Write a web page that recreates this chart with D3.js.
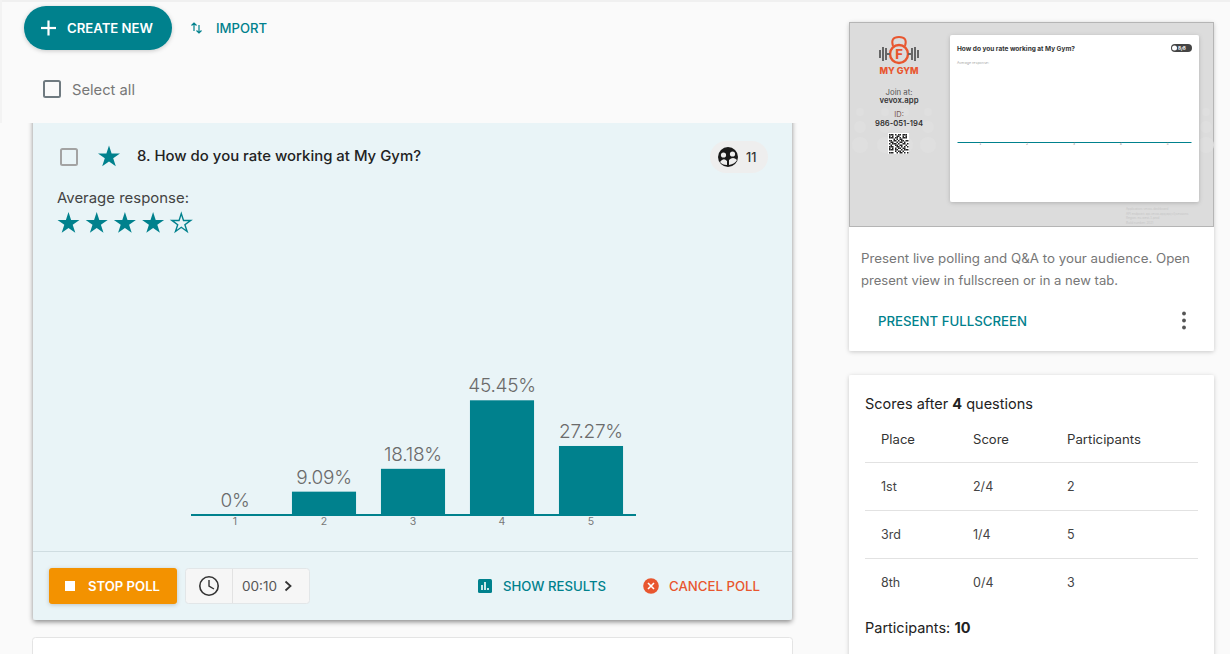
<!DOCTYPE html>
<html>
<head>
<meta charset="utf-8">
<title>Poll</title>
<script src="https://cdn.jsdelivr.net/npm/d3@7/dist/d3.min.js"></script>
<style>
  html, body { margin: 0; padding: 0; background: #fafafa; overflow: hidden; }
  svg { display: block; font-family: Inter, Lato, sans-serif; }
</style>
</head>
<body>
<svg id="page" width="1230" height="654"></svg>
<script>
'use strict';
var categories = ['1', '2', '3', '4', '5'];
var percentages = [0, 9.09, 18.18, 45.45, 27.27];
var percentLabels = ['0%', '9.09%', '18.18%', '45.45%', '27.27%'];
var averageStars = [1, 1, 1, 1, 0];
var tableHeaders = ['Place', 'Score', 'Participants'];
var tablePlaces = ['1st', '3rd', '8th'];
var tableScores = ['2/4', '1/4', '0/4'];
var tableParticipants = ['2', '5', '3'];
var thumbnailValues = [0, 0, 0, 0, 0];
var qrRows = [
  '1110101101110', '1010011001010', '1110110101110', '0001010110000',
  '1101101011011', '0110010110100', '1011101001101', '0100110110010',
  '1110011010101', '1010101101100', '1110110010111', '0000101101000',
  '1110010110101'
];

var TEAL = '#00818d', PALE = '#e9f4f7', GREY = '#6b6b6b', DARK = '#222', RED = '#e8562f', ORANGE = '#f39200';

var svg = d3.select('#page');
var defs = svg.append('defs');
var shadow = defs.append('filter').attr('id', 'shadow').attr('x', '-10%').attr('y', '-10%').attr('width', '120%').attr('height', '125%');
shadow.append('feDropShadow').attr('dx', 0).attr('dy', 2).attr('stdDeviation', 2.5).attr('flood-color', '#000').attr('flood-opacity', 0.45);
var softShadow = defs.append('filter').attr('id', 'softShadow').attr('x', '-10%').attr('y', '-10%').attr('width', '120%').attr('height', '125%');
softShadow.append('feDropShadow').attr('dx', 0).attr('dy', 1).attr('stdDeviation', 2).attr('flood-color', '#000').attr('flood-opacity', 0.2);

function label(parent, x, y, text, size, color, weight, anchor, width) {
  var t = parent.append('text').attr('x', x).attr('y', y).text(text)
    .style('font-size', size + 'px').style('fill', color)
    .style('font-weight', weight || 400).style('text-anchor', anchor || 'start');
  if (width) t.attr('textLength', width).attr('lengthAdjust', 'spacingAndGlyphs');
  return t;
}
function box(parent, x, y, w, h, fill, r) {
  return parent.append('rect').attr('x', x).attr('y', y).attr('width', w).attr('height', h).attr('rx', r || 0).attr('fill', fill);
}
function star(parent, cx, cy, size, filled) {
  parent.append('path').attr('d', d3.symbol().type(d3.symbolStar).size(size)())
    .attr('transform', 'translate(' + cx + ',' + cy + ')')
    .attr('fill', filled ? TEAL : 'none').attr('stroke', TEAL).attr('stroke-width', filled ? 0 : 1.4);
}
function line(parent, x1, y1, x2, y2, color, w) {
  return parent.append('line').attr('x1', x1).attr('y1', y1).attr('x2', x2).attr('y2', y2)
    .attr('stroke', color).attr('stroke-width', w || 1);
}

// page edges
box(svg, 0, 0, 1230, 2, '#f0f0f0');
box(svg, 0, 0, 2, 123, '#f3f3f3');

// poll card
var card = svg.append('g');
box(card, 33, 110, 759, 510, PALE, 3).attr('filter', 'url(#shadow)');
box(svg, 2, 90, 1228, 33, '#fafafa');
box(card, 61, 149, 16, 16, 'none', 1.5).attr('stroke', '#a3a3a3').attr('stroke-width', 2);
star(card, 109, 157, 150, true);
label(card, 137, 161, '8. How do you rate working at My Gym?', 14.5, DARK, 500, 'start', 284);
box(card, 710, 141, 58, 32, '#eeeeee', 16);
card.append('circle').attr('cx', 728).attr('cy', 157).attr('r', 10).attr('fill', '#1a1a1a');
card.append('circle').attr('cx', 723.5).attr('cy', 155).attr('r', 2.6).attr('fill', '#eee');
card.append('circle').attr('cx', 732.5).attr('cy', 154).attr('r', 2.6).attr('fill', '#eee');
card.append('path').attr('d', 'M720 162Q723.5 157 727 161L727 165Q722 165 720 162Z M729 160Q733 156 737 160Q735 164 729 165Z').attr('fill', '#eee');
label(card, 746, 162, '11', 12.5, '#333', 500);
label(card, 57, 203, 'Average response:', 14.5, '#444', 400, 'start', 132);

averageStars.forEach(function (filled, i) {
  star(card, 68.5 + i * 28.2, 223.5, filled ? 150 : 110, filled === 1);
});

// top toolbar
var toolbar = svg.append('g');
box(toolbar, 24, 6, 148, 44, TEAL, 22).attr('filter', 'url(#softShadow)');
line(toolbar, 41, 28, 56, 28, '#fff', 2.2);
line(toolbar, 48.5, 20.5, 48.5, 35.5, '#fff', 2.2);
label(toolbar, 67, 33, 'CREATE NEW', 12.5, '#fff', 600, 'start', 86);
toolbar.append('path').attr('d', 'M194 31V23M191.5 25.5L194 23L196.5 25.5M199 25V33M196.5 30.5L199 33L201.5 30.5')
  .attr('fill', 'none').attr('stroke', TEAL).attr('stroke-width', 1.2);
label(toolbar, 216, 33, 'IMPORT', 12.5, TEAL, 500, 'start', 51);
box(toolbar, 44, 81, 16, 16, 'none', 1.5).attr('stroke', '#6f7a80').attr('stroke-width', 2);
label(toolbar, 72, 95, 'Select all', 14.5, '#777', 400, 'start', 63);

// bar chart
var x = d3.scaleBand().domain(categories).range([190.5, 635.5]).paddingInner(0.28).paddingOuter(0.14);
var y = d3.scaleLinear().domain([0, 45.45]).range([514.5, 400.3]);
var chart = svg.append('g').attr('class', 'chart');

chart.selectAll('rect.bar').data(percentages).enter().append('rect')
  .attr('class', 'bar')
  .attr('x', function (d, i) { return x(categories[i]); })
  .attr('y', function (d) { return y(d); })
  .attr('width', x.bandwidth())
  .attr('height', function (d) { return y(0) - y(d); })
  .attr('fill', TEAL);

chart.selectAll('text.value').data(percentages).enter().append('text')
  .attr('class', 'value')
  .attr('x', function (d, i) { return x(categories[i]) + x.bandwidth() / 2; })
  .attr('y', function (d) { return y(d) - 8; })
  .attr('text-anchor', 'middle')
  .style('font-size', '19px').style('font-weight', 300).style('letter-spacing', '-0.25px').style('fill', GREY)
  .text(function (d, i) { return percentLabels[i]; });

var axis = chart.append('g').attr('transform', 'translate(0,514.5)')
  .call(d3.axisBottom(x).tickSize(0).tickPadding(3));
axis.select('.domain').attr('stroke', TEAL).attr('stroke-width', 2);
axis.selectAll('text').style('font-size', '10.5px').style('fill', '#777').style('font-family', 'Inter, sans-serif');

// poll footer
line(card, 33, 551.5, 792, 551.5, '#cfdde1');
box(card, 49, 568, 128, 36, ORANGE, 3).attr('filter', 'url(#softShadow)');
box(card, 65, 581, 10, 10, '#fff');
label(card, 88, 591, 'STOP POLL', 12.5, '#fff', 600, 'start', 72);
box(card, 185.5, 568.5, 124, 35, '#f6f6f6', 3).attr('stroke', '#e2e6e8');
line(card, 232.5, 569, 232.5, 603, '#e2e2e2');
card.append('circle').attr('cx', 209).attr('cy', 586).attr('r', 9.2).attr('fill', 'none').attr('stroke', '#333').attr('stroke-width', 1.6);
card.append('path').attr('d', 'M209 580V586L214 589').attr('fill', 'none').attr('stroke', '#333').attr('stroke-width', 1.4);
label(card, 242, 591, '00:10', 12.5, '#555', 400, 'start', 35);
card.append('path').attr('d', 'M285.5 581.5L290.5 586L285.5 590.5').attr('fill', 'none').attr('stroke', '#333').attr('stroke-width', 1.8);

box(card, 478, 579, 14, 14, TEAL, 1.5);
card.append('path').attr('d', 'M482 590V585M485 590V582M488 590V588').attr('stroke', '#fff').attr('stroke-width', 1.6);
label(card, 503, 591, 'SHOW RESULTS', 12.5, TEAL, 500, 'start', 103);
card.append('circle').attr('cx', 651).attr('cy', 586).attr('r', 7.8).attr('fill', RED);
card.append('path').attr('d', 'M648 583L654 589M654 583L648 589').attr('stroke', '#fff').attr('stroke-width', 1.6);
label(card, 669, 591, 'CANCEL POLL', 12.5, RED, 500, 'start', 91);

// next card peeking in
box(svg, 32.5, 637.5, 760, 30, '#fff', 3).attr('stroke', '#e4e4e4');

// present panel
var panel = svg.append('g');
box(panel, 849, 22, 365, 329, '#fff', 2).attr('filter', 'url(#softShadow)');
box(panel, 849.5, 22.5, 364, 204, '#dcdcdc').attr('stroke', '#b5b5b5');
[[145, 8], [127, 6], [112, 4]].forEach(function (row) {
  [860, 885, 905, 928, 1206].forEach(function (cx) {
    panel.append('circle').attr('cx', cx).attr('cy', row[0]).attr('r', row[1]).attr('fill', '#dfdfdf');
  });
});

// thumbnail logo
var logo = panel.append('g');
logo.append('circle').attr('cx', 899).attr('cy', 54).attr('r', 9).attr('fill', 'none').attr('stroke', RED).attr('stroke-width', 2.4);
logo.append('path').attr('d', 'M893 46Q890 37 899 37Q908 37 905 46').attr('fill', 'none').attr('stroke', RED).attr('stroke-width', 2);
label(logo, 899, 59, 'F', 13, RED, 800, 'middle');
logo.append('path').attr('d', 'M880 50V58M883 47V61M886 48V60M912 48V60M915 47V61M918 50V58M886 54H890M908 54H912')
  .attr('stroke', '#666').attr('stroke-width', 2);
label(logo, 899, 74, 'MY GYM', 8.5, RED, 800, 'middle', 39);
label(panel, 899, 94.5, 'Join at:', 7.5, '#555', 400, 'middle', 27);
label(panel, 899, 103, 'vevox.app', 8, '#333', 600, 'middle', 39);
label(panel, 899, 117, 'ID:', 7.5, '#7a5a52', 400, 'middle');
label(panel, 899, 126, '986-051-194', 8, '#333', 600, 'middle', 48);

var qr = panel.append('g');
box(qr, 888, 133, 21, 21, '#fff');
qrRows.forEach(function (row, r) {
  row.split('').forEach(function (cell, c) {
    if (cell === '1') box(qr, 889 + c * 1.5, 134 + r * 1.5, 1.5, 1.5, '#222');
  });
});

// thumbnail slide with its own empty chart
var slide = panel.append('g');
box(slide, 950, 35, 249, 167, '#fff', 2).attr('filter', 'url(#softShadow)');
label(slide, 957, 51, 'How do you rate working at My Gym?', 5.8, '#333', 700, 'start', 118);
box(slide, 1171, 44, 21, 8, '#444', 4);
label(slide, 1178, 50, '8/8', 4.6, '#fff', 700);
slide.append('circle').attr('cx', 1174.5).attr('cy', 48).attr('r', 2.5).attr('fill', '#fff');
label(slide, 957, 64, 'Average response:', 3.2, '#aaa', 400, 'start', 32);
var thumbX = d3.scaleBand().domain(categories).range([957, 1191]);
var thumbAxis = slide.append('g').attr('transform', 'translate(0,142)')
  .call(d3.axisBottom(thumbX).tickSize(0).tickPadding(1));
thumbAxis.select('.domain').attr('stroke', TEAL).attr('stroke-width', 1);
thumbAxis.selectAll('text').style('font-size', '3px').style('fill', '#777');
slide.selectAll('rect.thumb').data(thumbnailValues).enter().append('rect')
  .attr('class', 'thumb')
  .attr('x', function (d, i) { return thumbX(categories[i]); })
  .attr('y', 142).attr('width', thumbX.bandwidth()).attr('height', function (d) { return d; });
['Application: vevox-dashboard', 'API endpoint: api.vevox.app/api/v1/sessions', 'Region: eu-west-1-prod', 'Build number: 2021'].forEach(function (t, i) {
  label(panel, 1126, 210 + i * 4.6, t, 3, '#c6c6c6', 400);
});

label(panel, 861, 263, 'Present live polling and Q&A to your audience. Open', 12.5, '#777', 400, 'start', 329);
label(panel, 861, 285, 'present view in fullscreen or in a new tab.', 12.5, '#777', 400, 'start', 257);
label(panel, 878, 326, 'PRESENT FULLSCREEN', 12.5, TEAL, 500, 'start', 149);
[313.5, 320.5, 327.5].forEach(function (cy) {
  panel.append('circle').attr('cx', 1184).attr('cy', cy).attr('r', 1.9).attr('fill', '#555');
});

// scores panel
var scores = svg.append('g');
box(scores, 849, 375, 365, 300, '#fff', 2).attr('filter', 'url(#softShadow)');
var titleText = label(scores, 865, 409, '', 14.5, DARK, 400);
titleText.append('tspan').text('Scores after ');
titleText.append('tspan').style('font-weight', 700).text('4');
titleText.append('tspan').text(' questions');
var columns = [881, 973, 1067];
var headerWidths = [34, 36, 74];
tableHeaders.forEach(function (h, i) {
  label(scores, columns[i], 444, h, 12.5, '#333', 400, 'start', headerWidths[i]);
});
tablePlaces.forEach(function (place, i) {
  var rowY = 491 + i * 48;
  line(scores, 865, rowY - 28.5, 1198, rowY - 28.5, '#e2e2e2');
  label(scores, columns[0], rowY, place, 12.5, '#444');
  label(scores, columns[1], rowY, tableScores[i], 12.5, '#444');
  label(scores, columns[2], rowY, tableParticipants[i], 12.5, '#444');
});
var footText = label(scores, 865, 633, 'Participants: ', 14.5, DARK, 400);
footText.append('tspan').style('font-weight', 700).text('10');
</script>
</body>
</html>
